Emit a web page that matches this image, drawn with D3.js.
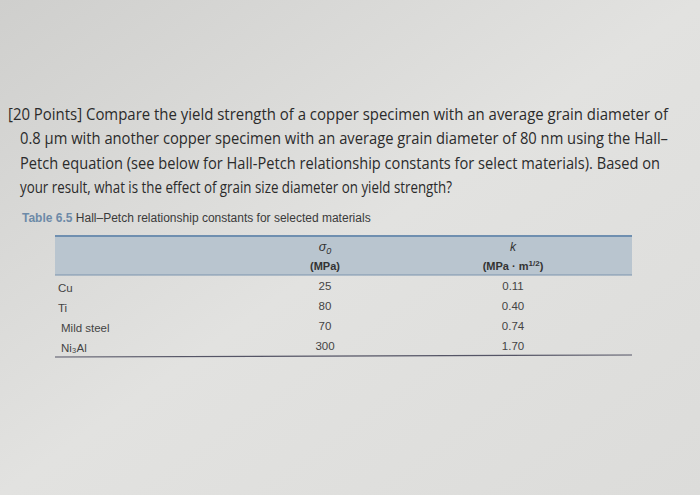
<!DOCTYPE html><html><head><meta charset="utf-8">
<script src="https://cdn.jsdelivr.net/npm/d3@7"></script>
<style>body{margin:0;background:#d6d6d4}</style></head><body>
<script>
const questionLines=["[20 Points] Compare the yield strength of a copper specimen with an average grain diameter of","0.8 μm with another copper specimen with an average grain diameter of 80 nm using the Hall–","Petch equation (see below for Hall-Petch relationship constants for select materials). Based on","your result, what is the effect of grain size diameter on yield strength?"];
const materials=["Cu","Ti","Mild steel","Ni₃Al"];
const sigma0=[25,80,70,300];
const kVals=["0.11","0.40","0.74","1.70"];

const W=700,H=495;
const svg=d3.select("body").append("svg").attr("width",W).attr("height",H);
const defs=svg.append("defs");
const g=defs.append("linearGradient").attr("id","bg").attr("x1",0).attr("y1",0).attr("x2",1).attr("y2",1);
g.append("stop").attr("offset","0%").attr("stop-color","#cfcfcd");
g.append("stop").attr("offset","50%").attr("stop-color","#e2e2e0");
g.append("stop").attr("offset","100%").attr("stop-color","#dcdcda");
svg.append("rect").attr("width",W).attr("height",H).attr("fill","url(#bg)");

const lineY=d3.scalePoint().domain(d3.range(questionLines.length)).range([120,193]);
svg.selectAll(".q").data(questionLines).join("text")
 .attr("x",(d,i)=>i==0?8:20).attr("y",(d,i)=>lineY(i))
 .attr("textLength",(d,i)=>[660,648,640,432][i]).attr("lengthAdjust","spacingAndGlyphs")
 .attr("font-family","Open Sans, sans-serif").attr("font-size",15.5).attr("fill","#2b2b2b").text(d=>d);

const cap=svg.append("text").attr("x",22).attr("y",222).attr("font-family","Liberation Sans, Arial").attr("font-size",12).attr("fill","#3a3a3a");
cap.append("tspan").attr("fill","#6d8aa8").attr("font-weight","bold").text("Table 6.5 ");
cap.append("tspan").text(" Hall–Petch relationship constants for selected materials");

svg.append("rect").attr("x",55).attr("y",236).attr("width",577).attr("height",39).attr("fill","#b9c5cf");
svg.append("line").attr("x1",55).attr("x2",632).attr("y1",236).attr("y2",236).attr("stroke","#6f8fb0").attr("stroke-width",2);
svg.append("line").attr("x1",55).attr("x2",632).attr("y1",275).attr("y2",275).attr("stroke","#7a93ad").attr("stroke-width",1);
const colX=d3.scaleOrdinal().domain(["s","k"]).range([325,513]);
const tf="Liberation Sans, Arial";
svg.append("text").attr("x",colX("s")).attr("y",251).attr("text-anchor","middle").attr("font-family",tf).attr("font-style","italic").attr("font-size",12.5).attr("fill","#333").html("σ<tspan font-size='9' dy='3'>0</tspan>");
svg.append("text").attr("x",colX("s")).attr("y",270).attr("text-anchor","middle").attr("font-family",tf).attr("font-size",11).attr("font-weight","bold").attr("fill","#333").text("(MPa)");
svg.append("text").attr("x",colX("k")).attr("y",251).attr("text-anchor","middle").attr("font-family",tf).attr("font-style","italic").attr("font-size",12).attr("fill","#333").text("k");
svg.append("text").attr("x",colX("k")).attr("y",270).attr("text-anchor","middle").attr("font-family",tf).attr("font-size",11).attr("font-weight","bold").attr("fill","#333").html("(MPa · m<tspan font-size='8' dy='-4'>1/2</tspan><tspan dy='4'>)</tspan>");

const rowY=d3.scalePoint().domain(materials).range([292,352]);
const rows=svg.selectAll(".r").data(materials).join("g");
rows.append("text").attr("x",(d,i)=>i<2?58:61).attr("y",d=>rowY(d)).attr("font-family",tf).attr("font-size",11.5).attr("fill","#444").text(d=>d);
rows.append("text").attr("x",colX("s")).attr("y",d=>rowY(d)-2).attr("text-anchor","middle").attr("font-family",tf).attr("font-size",11.5).attr("fill","#444").text((d,i)=>sigma0[i]);
rows.append("text").attr("x",colX("k")).attr("y",d=>rowY(d)-2).attr("text-anchor","middle").attr("font-family",tf).attr("font-size",11.5).attr("fill","#444").text((d,i)=>kVals[i]);
svg.append("line").attr("x1",55).attr("x2",632).attr("y1",357).attr("y2",355).attr("stroke","#556").attr("stroke-width",1.2);
</script></body></html>
